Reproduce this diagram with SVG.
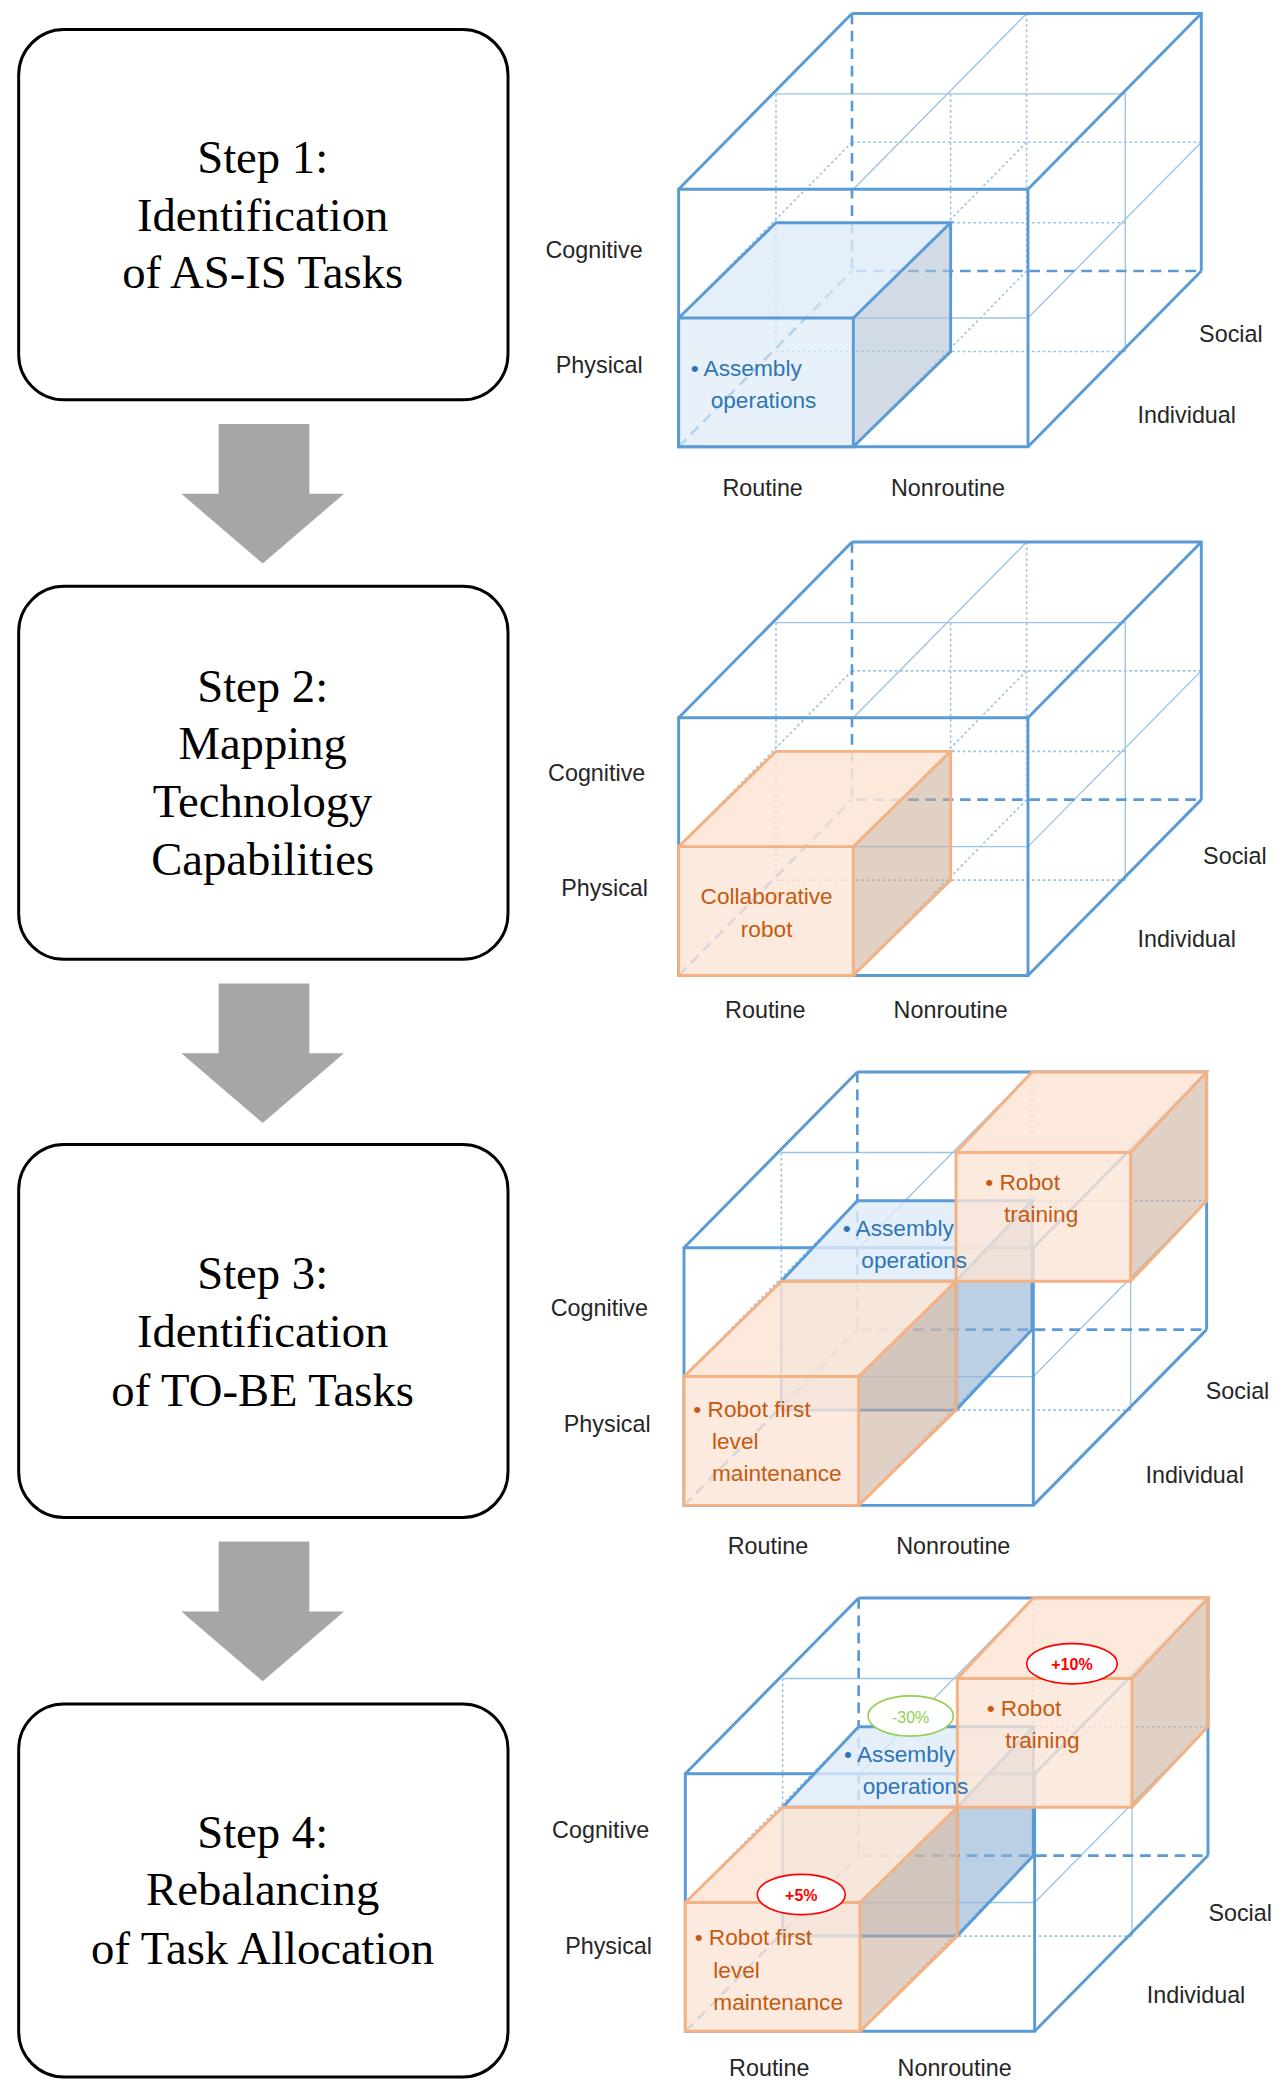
<svg xmlns="http://www.w3.org/2000/svg" xmlns:xlink="http://www.w3.org/1999/xlink" width="1284" height="2097" viewBox="0 0 1284 2097">
<style>
.box{fill:#fff;stroke:#000;stroke-width:2.2}
.st{font-family:"Liberation Serif",serif;font-size:35px;fill:#000;text-anchor:middle}
.lb{font-family:"Liberation Sans",sans-serif;font-size:17.5px;fill:#262626}
.e{text-anchor:end}.m{text-anchor:middle}
.tb{font-family:"Liberation Sans",sans-serif;font-size:17px;fill:#2e75b6}
.to{font-family:"Liberation Sans",sans-serif;font-size:17px;fill:#c55a11}
.k{stroke:#5b9bd5;stroke-width:2.2;fill:none}
.kd{stroke:#5b9bd5;stroke-width:2;fill:none;stroke-dasharray:8 5}
.t{stroke:#9dc3e6;stroke-width:1;fill:none}
.td{stroke:#9dc3e6;stroke-width:1.2;fill:none;stroke-dasharray:2 2}
.arr{fill:#a6a6a6}
</style>
<defs>
<g id="frame">
<path class="t" d="M73,-71H335V121M131,0L261,-131M262,96L392,-35M0,96H262"/>
<path class="td" d="M73,-71V121H335M204,-71V121M73,25H335M261,-131V61M130,-35H392M130,-35L0,96M261,-35L131,96M261,61L131,192M204,25L131,96"/>
<path class="kd" d="M130,-131V61H392M0,192L130,61"/>
<path class="k" d="M0,0H262V192H0ZM130,-131H392V61M0,0L130,-131M262,0L392,-131M262,192L392,61"/>
</g>
<g id="bcube">
<path d="M0,96H131L204,25H73Z" fill="#deebf7" fill-opacity="0.8"/>
<path d="M131,96L204,25V121L131,192Z" fill="#b4c3d3" fill-opacity="0.6"/>
<rect x="0" y="96" width="131" height="96" fill="#deebf7" fill-opacity="0.7"/>
<path class="k" d="M0,96H131V192H0ZM0,96L73,25H204L131,96M204,25V121L131,192"/>
</g>
<g id="ocube">
<path d="M0,96H131L204,25H73Z" fill="#fbe5d6" fill-opacity="0.85"/>
<path d="M131,96L204,25V121L131,192Z" fill="#c9a994" fill-opacity="0.55"/>
<rect x="0" y="96" width="131" height="96" fill="#fbe5d6" fill-opacity="0.8"/>
<path d="M0,96H131V192H0ZM0,96L73,25H204L131,96M204,25V121L131,192" fill="none" stroke="#f4b183" stroke-width="2.2"/>
</g>
<g id="bback">
<path d="M0,0H131L188,-60H57Z" fill="#deebf7" fill-opacity="0.8"/>
<path d="M131,0L188,-60V36L131,96Z" fill="#8fb1d3" fill-opacity="0.6"/>
<rect x="0" y="0" width="131" height="96" fill="#c5d6e8" fill-opacity="0.6"/>
<path class="k" d="M0,0H131V96H0ZM0,0L57,-60H188L131,0M188,-60V36L131,96"/>
</g>
<g id="oback">
<path d="M0,0H131L188,-60H57Z" fill="#fbe5d6" fill-opacity="0.85"/>
<path d="M131,0L188,-60V36L131,96Z" fill="#c9a994" fill-opacity="0.55"/>
<rect x="0" y="0" width="131" height="96" fill="#fbe5d6" fill-opacity="0.8"/>
<path d="M0,0H131V96H0ZM0,0L57,-60H188L131,0M188,-60V36L131,96" fill="none" stroke="#f4b183" stroke-width="2.2"/>
</g>
</defs>
<g transform="scale(1.3333,1.3417)">
<g id="connectors">
<path class="arr" d="M164,316H232V368H258L197,420L136,368H164Z"/>
<path class="arr" d="M164,733H232V785H258L197,837L136,785H164Z"/>
<path class="arr" d="M164,1149H232V1201H258L197,1253L136,1201H164Z"/>
</g>
<g id="step1"><rect class="box" x="14" y="22" width="367" height="276" rx="34"/>
<text class="st" x="197" y="129">Step 1:</text><text class="st" x="197" y="172">Identification</text><text class="st" x="197" y="215">of AS-IS Tasks</text></g>
<g id="step2"><rect class="box" x="14" y="437" width="367" height="278" rx="34"/>
<text class="st" x="197" y="523">Step 2:</text><text class="st" x="197" y="566">Mapping</text><text class="st" x="197" y="609">Technology</text><text class="st" x="197" y="652">Capabilities</text></g>
<g id="step3"><rect class="box" x="14" y="853" width="367" height="278" rx="34"/>
<text class="st" x="197" y="961">Step 3:</text><text class="st" x="197" y="1004">Identification</text><text class="st" x="197" y="1048">of TO-BE Tasks</text></g>
<g id="step4"><rect class="box" x="14" y="1270" width="367" height="278" rx="34"/>
<text class="st" x="197" y="1377">Step 4:</text><text class="st" x="197" y="1420">Rebalancing</text><text class="st" x="197" y="1464">of Task Allocation</text></g>

<g id="cube1"><g transform="translate(509,141)"><use xlink:href="#frame"/><use xlink:href="#bcube"/></g>
<text class="tb" x="518" y="280">• Assembly</text><text class="tb" x="533" y="304">operations</text>
<text class="lb e" x="482" y="192">Cognitive</text><text class="lb e" x="482" y="278">Physical</text><text class="lb e" x="947" y="255">Social</text><text class="lb e" x="927" y="315">Individual</text><text class="lb m" x="572" y="370">Routine</text><text class="lb m" x="711" y="370">Nonroutine</text></g>

<g id="cube2"><g transform="translate(509,535)"><use xlink:href="#frame"/><use xlink:href="#ocube"/></g>
<text class="to m" x="575" y="674">Collaborative</text><text class="to m" x="575" y="698">robot</text>
<text class="lb e" x="484" y="582">Cognitive</text><text class="lb e" x="486" y="668">Physical</text><text class="lb e" x="950" y="644">Social</text><text class="lb e" x="927" y="706">Individual</text><text class="lb m" x="574" y="759">Routine</text><text class="lb m" x="713" y="759">Nonroutine</text></g>

<g id="cube3"><g transform="translate(513,930)"><use xlink:href="#frame"/><g transform="translate(73,25)"><use xlink:href="#bback"/></g><use xlink:href="#ocube"/><g transform="translate(204,-71)"><use xlink:href="#oback"/></g></g>
<text class="to" x="739" y="887">• Robot</text><text class="to" x="753" y="911">training</text>
<text class="tb" x="632" y="921">• Assembly</text><text class="tb" x="646" y="945">operations</text>
<text class="to" x="520" y="1056">• Robot first</text><text class="to" x="534" y="1080">level</text><text class="to" x="534" y="1104">maintenance</text>
<text class="lb e" x="486" y="981">Cognitive</text><text class="lb e" x="488" y="1067">Physical</text><text class="lb e" x="952" y="1043">Social</text><text class="lb e" x="933" y="1105">Individual</text><text class="lb m" x="576" y="1158">Routine</text><text class="lb m" x="715" y="1158">Nonroutine</text></g>

<g id="cube4"><g transform="translate(514,1322)"><use xlink:href="#frame"/><g transform="translate(73,25)"><use xlink:href="#bback"/></g><use xlink:href="#ocube"/><g transform="translate(204,-71)"><use xlink:href="#oback"/></g></g>
<text class="to" x="740" y="1279">• Robot</text><text class="to" x="754" y="1303">training</text>
<text class="tb" x="633" y="1313">• Assembly</text><text class="tb" x="647" y="1337">operations</text>
<text class="to" x="521" y="1450">• Robot first</text><text class="to" x="535" y="1474">level</text><text class="to" x="535" y="1498">maintenance</text>
<text class="lb e" x="487" y="1370">Cognitive</text><text class="lb e" x="489" y="1456">Physical</text><text class="lb e" x="954" y="1432">Social</text><text class="lb e" x="934" y="1493">Individual</text><text class="lb m" x="577" y="1547">Routine</text><text class="lb m" x="716" y="1547">Nonroutine</text>
<ellipse cx="683" cy="1279" rx="32" ry="15" fill="#fff" stroke="#92d050" stroke-width="1.2"/><text x="683" y="1284" font-family="Liberation Sans,sans-serif" font-size="12" fill="#92d050" text-anchor="middle">-30%</text>
<ellipse cx="804" cy="1240" rx="34" ry="15" fill="#fff" stroke="#ff0000" stroke-width="1.2"/><text x="804" y="1245" font-family="Liberation Sans,sans-serif" font-size="12" font-weight="bold" fill="#ff0000" text-anchor="middle">+10%</text>
<ellipse cx="601" cy="1412" rx="33" ry="15" fill="#fff" stroke="#ff0000" stroke-width="1.2"/><text x="601" y="1417" font-family="Liberation Sans,sans-serif" font-size="12" font-weight="bold" fill="#ff0000" text-anchor="middle">+5%</text></g>
</g>
</svg>
